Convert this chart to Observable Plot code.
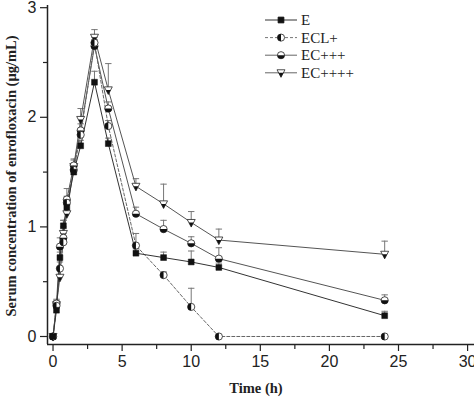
<!DOCTYPE html>
<html>
<head>
<meta charset="utf-8">
<script src="https://cdn.jsdelivr.net/npm/d3@7"></script>
<script src="https://cdn.jsdelivr.net/npm/@observablehq/plot@0.6"></script>
<style>
  html, body { margin: 0; padding: 0; background: white; }
  #chart { width: 474px; height: 397px; }
</style>
</head>
<body>
<div id="chart"></div>
<script>
// ---- data ----
const times = [0, 0.25, 0.5, 0.75, 1, 1.5, 2, 3, 4, 6, 8, 10, 12, 24];
const seriesNames = ["E", "ECL+", "EC+++", "EC++++"];
const valE    = [0, 0.24, 0.72, 1.01, 1.18, 1.50, 1.74, 2.32, 1.76, 0.76, 0.72, 0.68, 0.63, 0.19];
const valECL  = [0, 0.28, 0.62, 0.86, 1.22, 1.52, 1.84, 2.68, 1.92, 0.83, 0.56, 0.27, 0, 0];
const valEC3  = [0, 0.30, 0.82, 0.90, 1.25, 1.56, 1.88, 2.65, 2.08, 1.12, 0.98, 0.85, 0.71, 0.33];
const valEC4  = [0, 0.29, 0.54, 0.94, 1.12, 1.55, 1.98, 2.73, 2.25, 1.37, 1.21, 1.04, 0.88, 0.75];
const sdE     = [0, 0.04, 0.05, 0.05, 0.05, 0.05, 0.05, 0.10, 0.05, 0.04, 0.05, 0.10, 0.04, 0.04];
const sdECL   = [0, 0.04, 0.06, 0.08, 0.06, 0.05, 0.05, 0.05, 0.05, 0.11, 0.03, 0.17, 0, 0];
const sdEC3   = [0, 0.03, 0.08, 0.10, 0.10, 0.06, 0.06, 0.06, 0.06, 0.06, 0.08, 0.06, 0.10, 0.05];
const sdEC4   = [0, 0.05, 0.10, 0.12, 0.15, 0.06, 0.10, 0.07, 0.24, 0.07, 0.18, 0.10, 0.10, 0.12];
const xMajor = [0, 5, 10, 15, 20, 25, 30];
const xMinor = [2.5, 7.5, 12.5, 17.5, 22.5, 27.5];
const yMajor = [0, 1, 2, 3];
const yMinor = [0.5, 1.5, 2.5];
const xTitle = "Time (h)";
const yTitle = "Serum concentration of enrofloxacin (\u03bcg/mL)";

const xDomain = [-0.4, 30.5];
const yDomain = [-0.073, 3.02];

function rows(vals, sds) {
  return times.map((t, i) => ({t, v: vals[i], sd: sds[i]}));
}
const dE = rows(valE, sdE), dECL = rows(valECL, sdECL), dEC3 = rows(valEC3, sdEC3), dEC4 = rows(valEC4, sdEC4);

// ---- custom symbols ----
const halfLeft = {draw(ctx, size) { const r = Math.sqrt(size / Math.PI); ctx.moveTo(0, -r); ctx.arc(0, 0, r, -Math.PI / 2, Math.PI / 2, true); ctx.closePath(); }};
const halfBottom = {draw(ctx, size) { const r = Math.sqrt(size / Math.PI); ctx.moveTo(r, 0); ctx.arc(0, 0, r, 0, Math.PI, false); ctx.closePath(); }};
const triDown = {draw(ctx, size) { const r = Math.sqrt(size / Math.PI); const a = r * 1.05, h1 = r * 0.8, h2 = r * 1.2; ctx.moveTo(-a, -h1); ctx.lineTo(a, -h1); ctx.lineTo(0, h2); ctx.closePath(); }};
const triTip = {draw(ctx, size) { const r = Math.sqrt(size / Math.PI); const a = r * 1.05, h1 = r * 0.8, h2 = r * 1.2; const ym = 0; const f = (h2 - ym) / (h2 + h1); ctx.moveTo(-a * f, ym); ctx.lineTo(a * f, ym); ctx.lineTo(0, h2); ctx.closePath(); }};
const cap = {draw(ctx, size) { const r = Math.sqrt(size / Math.PI); ctx.moveTo(-r, 0); ctx.lineTo(r, 0); }};

function errMarks(data) {
  const d = data.filter(p => p.sd > 0);
  return [
    Plot.ruleX(d, {x: "t", y1: "v", y2: p => p.v + p.sd, stroke: "#777", strokeWidth: 1}),
    Plot.dot(d, {x: "t", y: p => p.v + p.sd, symbol: cap, r: 3.2, stroke: "#777", strokeWidth: 1, fill: "none"})
  ];
}

const chart = Plot.plot({
  width: 474, height: 397,
  marginLeft: 47, marginRight: 0, marginTop: 5, marginBottom: 53,
  x: {domain: xDomain},
  y: {domain: yDomain},
  style: {fontFamily: "'Liberation Sans', Arial, sans-serif", fontSize: "15px", background: "white", color: "#222"},
  marks: [
    Plot.axisX({ticks: xMajor, tickSize: 7, tickPadding: 4, tickFormat: d3.format("d"), label: null, fontSize: 16, strokeWidth: 1.2}),
    Plot.axisX({ticks: xMinor, tickSize: 5, tickFormat: () => "", label: null, strokeWidth: 1.2}),
    Plot.axisY({ticks: yMajor, tickSize: 7, tickPadding: 4, tickFormat: d3.format("d"), label: null, fontSize: 16, strokeWidth: 1.2}),
    Plot.axisY({ticks: yMinor, tickSize: 4, tickFormat: () => "", label: null, strokeWidth: 1.2}),
    Plot.ruleY([yDomain[0]], {stroke: "#222", strokeWidth: 1.5}),
    Plot.ruleX([xDomain[0]], {stroke: "#222", strokeWidth: 1.5}),
    ...errMarks(dEC4), ...errMarks(dEC3), ...errMarks(dECL), ...errMarks(dE),
    Plot.line(dEC4, {x: "t", y: "v", stroke: "#555", strokeWidth: 1}),
    Plot.line(dEC3, {x: "t", y: "v", stroke: "#555", strokeWidth: 1}),
    Plot.line(dECL, {x: "t", y: "v", stroke: "#666", strokeWidth: 1, strokeDasharray: "3,2"}),
    Plot.line(dE, {x: "t", y: "v", stroke: "#333", strokeWidth: 1}),
    Plot.dot(dEC4, {x: "t", y: "v", symbol: triDown, r: 3.8, fill: "white", stroke: "#222", strokeWidth: 0.8}),
    Plot.dot(dEC4, {x: "t", y: "v", symbol: triTip, r: 3.8, fill: "#111"}),
    Plot.dot(dEC3, {x: "t", y: "v", symbol: "circle", r: 3.6, fill: "white", stroke: "#222", strokeWidth: 0.8}),
    Plot.dot(dEC3, {x: "t", y: "v", symbol: halfBottom, r: 3.6, fill: "#111"}),
    Plot.dot(dECL, {x: "t", y: "v", symbol: "circle", r: 3.6, fill: "white", stroke: "#222", strokeWidth: 0.8}),
    Plot.dot(dECL, {x: "t", y: "v", symbol: halfLeft, r: 3.6, fill: "#111"}),
    Plot.dot(dE, {x: "t", y: "v", symbol: "square", r: 3.3, fill: "#111", stroke: "#111", strokeWidth: 0.5})
  ]
});
document.getElementById("chart").appendChild(chart);

// ---- axis titles & legend ----
const svg = d3.select(chart);
svg.append("text")
  .attr("transform", "translate(16,176) rotate(-90)")
  .attr("text-anchor", "middle")
  .attr("font-family", "'Liberation Serif', 'Times New Roman', serif")
  .attr("font-weight", "bold").attr("font-size", 14.5).attr("fill", "#222")
  .text(yTitle);
svg.append("text")
  .attr("x", 256).attr("y", 393)
  .attr("text-anchor", "middle")
  .attr("font-family", "'Liberation Serif', 'Times New Roman', serif")
  .attr("font-weight", "bold").attr("font-size", 14.5).attr("fill", "#222")
  .text(xTitle);

const legendStyles = [
  {stroke: "#333", dash: null, layers: [{type: d3.symbolSquare, fill: "#111", stroke: "#111", size: 34}]},
  {stroke: "#777", dash: "3,2", layers: [{type: d3.symbolCircle, fill: "white", stroke: "#222", size: 40}, {type: halfLeft, fill: "#111", stroke: "none", size: 40}]},
  {stroke: "#666", dash: null, layers: [{type: d3.symbolCircle, fill: "white", stroke: "#222", size: 40}, {type: halfBottom, fill: "#111", stroke: "none", size: 40}]},
  {stroke: "#666", dash: null, layers: [{type: triDown, fill: "white", stroke: "#222", size: 45}, {type: triTip, fill: "#111", stroke: "none", size: 45}]}
];
const lg = svg.append("g");
seriesNames.forEach((name, i) => {
  const y = 20 + 17.6 * i;
  const st = legendStyles[i];
  lg.append("line").attr("x1", 265).attr("x2", 297).attr("y1", y).attr("y2", y)
    .attr("stroke", st.stroke).attr("stroke-width", 1).attr("stroke-dasharray", st.dash);
  st.layers.forEach(l => {
    lg.append("path").attr("transform", `translate(281,${y})`)
      .attr("d", d3.symbol().type(l.type).size(l.size)())
      .attr("fill", l.fill).attr("stroke", l.stroke).attr("stroke-width", 0.8);
  });
  lg.append("text").attr("x", 301).attr("y", y + 5)
    .attr("text-anchor", "start")
    .attr("font-family", "'Liberation Serif', 'Times New Roman', serif")
    .attr("font-size", 15).attr("fill", "#222").text(name);
});
</script>
</body>
</html>
